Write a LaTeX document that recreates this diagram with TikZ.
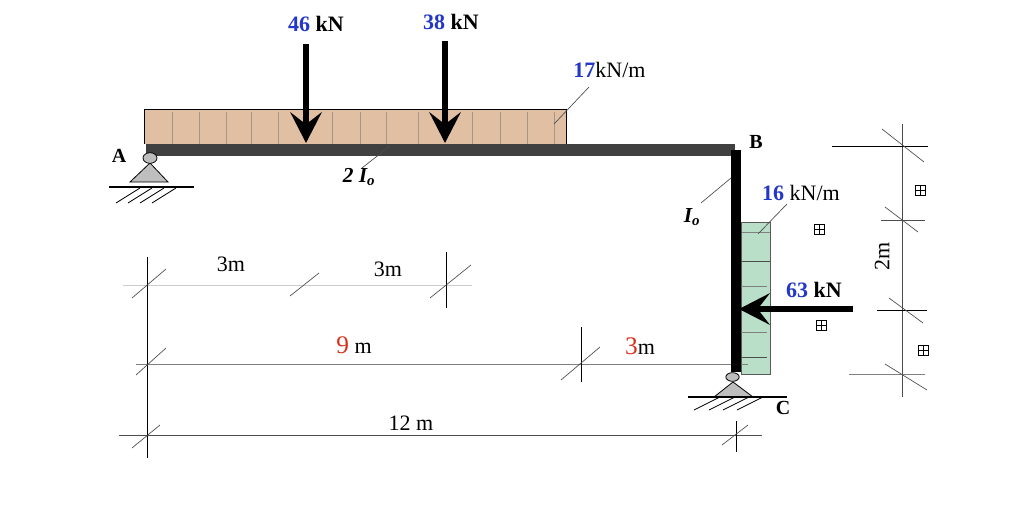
\documentclass[tikz,border=0pt]{standalone}
\usepackage{fontspec}
\setmainfont{Liberation Serif}
\usetikzlibrary{arrows.meta, positioning, shapes.geometric}
\definecolor{loadblue}{HTML}{2438C8}
\definecolor{dimred}{HTML}{D9301A}
\definecolor{loadtan}{HTML}{E0BFA2}
\definecolor{loadgreen}{HTML}{B9DFC9}
\definecolor{beamgrey}{HTML}{404040}
\definecolor{pingrey}{HTML}{BEBEBE}
\definecolor{tickbrown}{HTML}{A5968A}
\newcommand{\bigdigit}[1]{\textcolor{dimred}{\fontsize{19}{20}\selectfont #1}}

\begin{document}
\begin{tikzpicture}
	[x=0.75pt, y=-0.75pt,
	 force/.style={line width=4.5pt, -{Stealth[length=23pt, width=23.5pt, inset=9pt]}},
	 textlabel/.style={inner sep=0pt, font=\fontsize{16.5}{20}\selectfont},
	 letter/.style={inner sep=0pt, font=\fontsize{15}{16}\selectfont\bfseries},
	 moment/.style={inner sep=0pt, font=\fontsize{16}{16}\selectfont\bfseries\itshape},
	 marker/.style={draw, line width=0.5pt, minimum size=7.5pt, inner sep=0pt,
		path picture={\draw[line width=0.4pt]
			(path picture bounding box.north) -- (path picture bounding box.south)
			(path picture bounding box.west) -- (path picture bounding box.east);}},
	 thin line/.style={line width=0.5pt, black!70},
	 faint line/.style={line width=0.5pt, black!20},
	 mid line/.style={line width=0.5pt, black!50},
	 ground/.style={line width=0.8pt},
	 pinjoint/.style={ellipse, draw, line width=0.6pt, fill=pingrey, inner sep=0pt}]

	\useasboundingbox (0,0) rectangle (1024,517);

	% joints
	\coordinate (A) at (150,150);
	\coordinate (B) at (736,150);
	\coordinate (C) at (736,372);

	% distributed loads
	\fill[loadtan] (144,109) rectangle (566,144);
	\draw[line width=0.5pt] (566,144) -- (566,109) -- (144,109) -- (144,144);
	\foreach \tx in {172.5,199.5,226.5,251.5,278,332,360.5,386.5,418,472,500,527,554}
		\draw[tickbrown, line width=0.5pt] (\tx,112) -- (\tx,144);
	\draw[fill=loadgreen, draw=black!65, line width=0.5pt] (741,222) rectangle (770.5,374);
	\draw[mid line] (742,232) -- (770,232);
	\draw[thin line] (741,261) -- (770,261);
	\draw[mid line] (741,286) -- (767,286);
	\draw[mid line] (741,332) -- (767,332);
	\draw[thin line] (741,357) -- (767,357);

	% dimension lines, left and below
	\draw[faint line] (123,285) -- (472,285);
	\draw[mid line] (136,364) -- (748,364);
	\draw[thin line] (119,435) -- (762,435);
	\draw[line width=0.5pt] (147,257) -- (147,458);
	\draw[line width=0.5pt] (446,252) -- (446,308);
	\draw[line width=0.5pt] (581,327) -- (581,382);
	\draw[line width=0.5pt] (736,421) -- (736,452);
	\foreach \xa/\ya/\xb/\yb in {132/298/166/269, 290/296/319/273, 430/298/471/265,
			136/375/166/348, 561/380/600/347, 132/448/160/425, 722/445/748/425}
		\draw[thin line] (\xa,\ya) -- (\xb,\yb);

	% dimension lines, right
	\draw[thin line] (902,124) -- (902,397);
	\draw[line width=0.5pt] (832,146) -- (928,146);
	\draw[thin line] (881,220) -- (925,220);
	\draw[line width=0.5pt] (877,310) -- (927,310);
	\draw[mid line] (849,374) -- (925,374);
	\foreach \xa/\ya/\xb/\yb in {882/129/924/162, 885/207/918/232, 889/298/923/323, 885/364/927/390}
		\draw[thin line] (\xa,\ya) -- (\xb,\yb);

	% frame
	\draw[beamgrey, line width=8.5pt] (146,150) -- (735,150);
	\draw[line width=7.5pt] (B) -- (C);

	% supports
	\draw[fill=pingrey, line width=0.6pt] (150,163) -- (168,182) -- (130,182) -- cycle;
	\node[pinjoint, minimum width=10.5pt, minimum height=8pt] (pinA) at (150,158) {};
	\draw[ground] (109,187) -- (194,187);
	\foreach \ha in {116,128,140,152}
		\draw[line width=0.6pt] (\ha,203) -- ++(24,-15);
	\draw[fill=pingrey, line width=0.6pt] (733,382) -- (753,397) -- (714,397) -- cycle;
	\node[pinjoint, minimum width=10pt, minimum height=6.5pt] (pinC) at (732.5,377) {};
	\draw[ground] (688,397) -- (787,397);
	\foreach \ha in {694,709,723,737}
		\draw[line width=0.6pt] (\ha,410) -- ++(25,-12.5);

	% concentrated loads
	\coordinate (f1) at (306,143);
	\coordinate (f2) at (445,143);
	\coordinate (f3) at (739,309);
	\draw[force] (306,44) -- (f1);
	\draw[force] (445,41) -- (f2);
	\draw[force] (853,309) -- (f3);

	% text
	\node[letter] (nA) at (119,156) {A};
	\node[letter] (nB) at (756,142) {B};
	\node[letter] (nC) at (783,408) {C};
	\node[textlabel] (p1) at (316,24) {\textbf{\textcolor{loadblue}{46} kN}};
	\node[textlabel] (p2) at (451,22) {\textbf{\textcolor{loadblue}{38} kN}};
	\node[textlabel] (p3) at (814,290) {\textbf{\textcolor{loadblue}{63} kN}};
	\node[textlabel] (q1) at (609.5,70) {\textcolor{loadblue}{\textbf{17}}kN/m};
	\node[textlabel] (q2) at (801,193) {\textcolor{loadblue}{\textbf{16}} kN/m};
	\node[moment] (i1) at (359,177) {2 I\textsubscript{o}};
	\node[moment] (i2) at (692,217) {I\textsubscript{o}};
	\node[textlabel] (d1) at (231,264) {3m};
	\node[textlabel] (d2) at (388,269) {3m};
	\node[textlabel] (d3) at (354,345) {\bigdigit{9} m};
	\node[textlabel] (d4) at (640,346) {\bigdigit{3}m};
	\node[textlabel] (d5) at (411,423) {12 m};
	\node[textlabel, rotate=90] (d6) at (882,256) {2m};

	% leaders
	\draw[thin line] (589,87) -- (554,124);
	\draw[thin line] (362,168) -- (390,146);
	\draw[thin line] (701,203) -- (731,178);
	\draw[thin line] (787,204) -- (758,234);

	% small markers
	\node[marker] (m1) at (819,229) {};
	\node[marker] (m2) at (821,325) {};
	\node[marker] (m3) at (920,190) {};
	\node[marker] (m4) at (923,350) {};
\end{tikzpicture}
\end{document}
